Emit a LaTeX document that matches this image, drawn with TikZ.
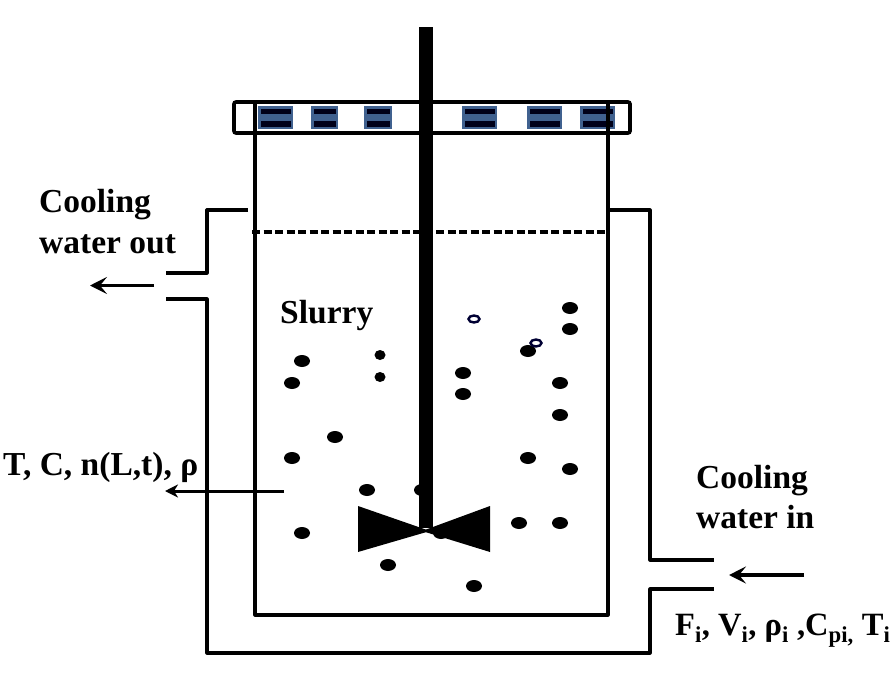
\documentclass[tikz,border=0pt]{standalone}
\usepackage{fontspec}
\setmainfont{Liberation Serif}
\usetikzlibrary{arrows.meta}
\definecolor{slotblue}{HTML}{40618F}
\colorlet{barblack}{black!90!blue}
\tikzset{
  wall/.style={line width=3.2pt,line join=round},
  flow/.style={line width=3.2pt,-{Stealth[length=17pt,width=17pt,inset=7pt]}},
  flowthin/.style={line width=3pt,-{Stealth[length=13pt,width=13pt,inset=4pt]}},
  lbl/.style={inner sep=0pt,font=\fontsize{33.5}{33.5}\selectfont\bfseries,anchor=base west},
  lblsmall/.style={lbl,font=\fontsize{32.5}{32.5}\selectfont\bfseries},
}
\newcommand{\dotp}[2]{\fill[black] (#1,#2) ellipse [x radius=8pt,y radius=6pt];}
\newcommand{\opendot}[2]{\draw[line width=2.4pt,draw=black!80!blue,fill=white] (#1,#2) ellipse [x radius=5.5pt,y radius=3.5pt];}
\newcommand{\slotp}[2]{\fill[slotblue] (#1,106) rectangle (#2,128.5);
  \fill[barblack] ({#1+2.5},108.5) rectangle ({#2-2.5},114);
  \fill[barblack] ({#1+2.5},121) rectangle ({#2-2.5},126.5);}
\begin{document}
\begin{tikzpicture}[x=1pt,y=-1pt]
\useasboundingbox (0,0) rectangle (891,677);
% lid slots
\slotp{258}{293}\slotp{311}{338}\slotp{364}{392}\slotp{462}{497}\slotp{527}{562}\slotp{580}{615}
% lid
\draw[line width=3.6pt,rounded corners=2pt] (234,102) rectangle (630,133);
% vessel
\coordinate (vtl) at (255,102);
\coordinate (vbl) at (255,615);
\coordinate (vbr) at (608,615);
\coordinate (vtr) at (608,102);
\draw[wall] (vtl) -- (vbl) -- (vbr) -- (vtr);
% liquid level
\coordinate (lvlL) at (252,232);
\coordinate (lvlR) at (608,232);
\draw[line width=3.2pt,dash pattern=on 8pt off 3.5pt] (lvlL) -- (lvlR);
% particles
\dotp{302}{361}\dotp{292}{383}\dotp{292}{458}\dotp{335}{437}\dotp{302}{533}\dotp{367}{490}\dotp{388}{565}
\dotp{463}{373}\dotp{463}{394}\dotp{474}{586}\dotp{519}{523}\dotp{560}{523}\dotp{528}{458}\dotp{570}{469}
\dotp{560}{383}\dotp{560}{415}\dotp{570}{308}\dotp{570}{329}\dotp{528}{351}\dotp{422}{490}\dotp{441}{533}
\fill (380,355) ellipse [x radius=5.5pt,y radius=5pt];
\fill (380,377) ellipse [x radius=5.5pt,y radius=5pt];
\opendot{474}{319}\opendot{536}{343}
% shaft and impeller
\fill (419,27) rectangle (433,528);
\fill (358,506) -- (430,531) -- (358,552) -- cycle;
\fill (490,506) -- (422,531) -- (490,552) -- cycle;
% jacket
\coordinate (j1) at (248,210);
\coordinate (j2) at (207,210);
\coordinate (j3) at (207,273);
\coordinate (j4) at (166,273);
\coordinate (j5) at (166,299);
\coordinate (j6) at (207,299);
\coordinate (j7) at (207,653);
\coordinate (j8) at (650,653);
\coordinate (j9) at (650,589);
\coordinate (j10) at (714,589);
\coordinate (j11) at (610,210);
\coordinate (j12) at (650,210);
\coordinate (j13) at (650,560);
\coordinate (j14) at (714,560);
\draw[wall] (j1) -- (j2) -- (j3) -- (j4);
\draw[wall] (j5) -- (j6) -- (j7) -- (j8) -- (j9) -- (j10);
\draw[wall] (j11) -- (j12) -- (j13) -- (j14);
% flows
\coordinate (a1) at (154,285.5);
\coordinate (a2) at (90,285.5);
\coordinate (b1) at (284,491);
\coordinate (b2) at (165,491);
\coordinate (c1) at (804,575);
\coordinate (c2) at (729,575);
\draw[flow] (a1) -- (a2);
\draw[flowthin] (b1) -- (b2);
\draw[flow] (c1) -- (c2);
% labels
\node[lbl] (t1) at (39,212.5) {Cooling};
\node[lbl] (t2) at (39,253) {water out};
\node[lbl] (t3) at (280,323) {Slurry};
\node[lbl] (t4) at (3,475) {T, C, n(L,t), ρ};
\node[lbl] (t5) at (696,488) {Cooling};
\node[lbl] (t6) at (696,528) {water in};
\node[lblsmall] (t7) at (675,635) {F\textsubscript{i}, V\textsubscript{i}, ρ\textsubscript{i} ,C\textsubscript{pi,} T\textsubscript{i}};
\end{tikzpicture}
\end{document}
